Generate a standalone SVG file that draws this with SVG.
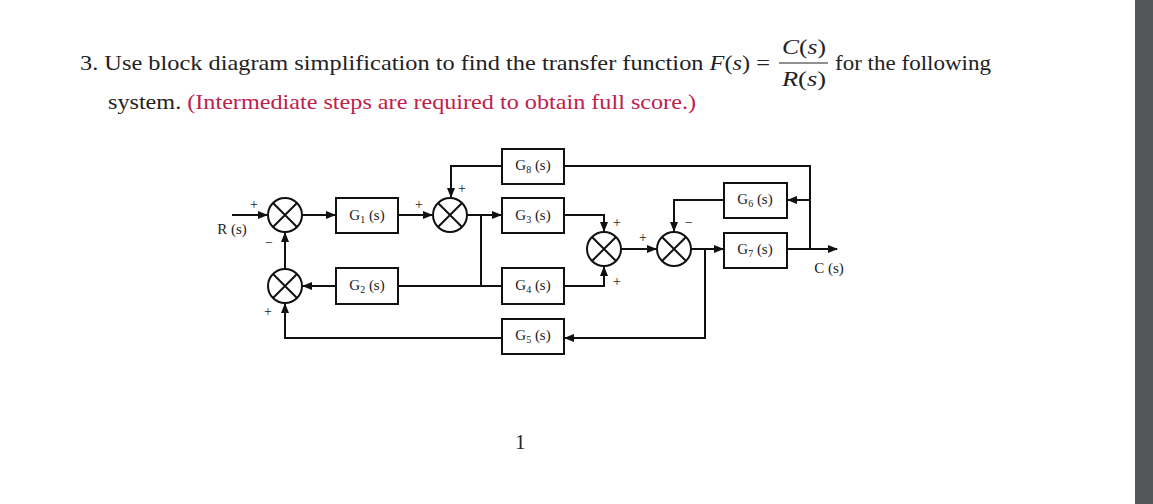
<svg xmlns="http://www.w3.org/2000/svg" width="1153" height="504" viewBox="0 0 1153 504">
<style>
.t{font-family:"Liberation Serif",serif;font-size:21px;fill:#222}
.r{fill:#c0204a}
.b{fill:#fff;stroke:#111;stroke-width:2}
.bl{font-family:"Liberation Serif",serif;font-size:15px;fill:#222;text-anchor:middle}
.sub{font-size:10px}
.s{font-family:"Liberation Serif",serif;font-size:14px;fill:#222}
.w{fill:none;stroke:#111;stroke-width:2}
.x{fill:#fff;stroke:#111;stroke-width:2}
</style>
<defs><marker id="a" markerWidth="10" markerHeight="8" refX="9" refY="4" orient="auto" markerUnits="userSpaceOnUse"><path d="M0,0L10,4L0,8z" fill="#111"/></marker></defs>
<rect width="1153" height="504" fill="#fff"/>
<rect x="1135" y="0" width="18" height="504" fill="#54575a"/>
<text class="t" x="80" y="70" textLength="690" lengthAdjust="spacingAndGlyphs">3. Use block diagram simplification to find the transfer function <tspan font-style="italic">F</tspan>(<tspan font-style="italic">s</tspan>) =</text>
<text class="t" x="782" y="54" textLength="44" lengthAdjust="spacingAndGlyphs"><tspan font-style="italic">C</tspan>(<tspan font-style="italic">s</tspan>)</text>
<line x1="779" y1="63" x2="828" y2="63" stroke="#222" stroke-width="1"/>
<text class="t" x="782" y="86" textLength="44" lengthAdjust="spacingAndGlyphs"><tspan font-style="italic">R</tspan>(<tspan font-style="italic">s</tspan>)</text>
<text class="t" x="835" y="70" textLength="156" lengthAdjust="spacingAndGlyphs">for the following</text>
<text class="t" x="108" y="109" textLength="588" lengthAdjust="spacingAndGlyphs">system. <tspan class="r">(Intermediate steps are required to obtain full score.)</tspan></text>
<text class="t" x="515" y="449">1</text>
<g id="connectors">
<path class="w" d="M232,215H267" marker-end="url(#a)"/>
<path class="w" d="M302,215H335" marker-end="url(#a)"/>
<path class="w" d="M398,215H432" marker-end="url(#a)"/>
<path class="w" d="M467,215H501" marker-end="url(#a)"/>
<path class="w" d="M481,215V286H398"/>
<path class="w" d="M481,286H502"/>
<path class="w" d="M336,286H303" marker-end="url(#a)"/>
<path class="w" d="M285,269V233" marker-end="url(#a)"/>
<path class="w" d="M502,166H451V197" marker-end="url(#a)"/>
<path class="w" d="M502,338H285V304" marker-end="url(#a)"/>
<path class="w" d="M564,215H604V231" marker-end="url(#a)"/>
<path class="w" d="M564,286H604V267" marker-end="url(#a)"/>
<path class="w" d="M621,249H656" marker-end="url(#a)"/>
<path class="w" d="M691,249H723" marker-end="url(#a)"/>
<path class="w" d="M724,200H674V231" marker-end="url(#a)"/>
<path class="w" d="M564,166H810V249"/>
<path class="w" d="M810,200H788" marker-end="url(#a)"/>
<path class="w" d="M787,249H837" marker-end="url(#a)"/>
<path class="w" d="M705,249V338H565" marker-end="url(#a)"/>
</g>
<g id="S1"><circle class="x" cx="285" cy="215" r="17"/><path class="w" d="M273,203L297,227M297,203L273,227"/></g>
<g id="S2"><circle class="x" cx="285" cy="286" r="17"/><path class="w" d="M273,274L297,298M297,274L273,298"/></g>
<g id="S3"><circle class="x" cx="450" cy="215" r="17"/><path class="w" d="M438,203L462,227M462,203L438,227"/></g>
<g id="S4"><circle class="x" cx="604" cy="249" r="17"/><path class="w" d="M592,237L616,261M616,237L592,261"/></g>
<g id="S5"><circle class="x" cx="674" cy="249" r="17"/><path class="w" d="M662,237L686,261M686,237L662,261"/></g>
<g id="G1"><rect class="b" x="336" y="198" width="62" height="35"/><text class="bl" x="367" y="220">G<tspan class="sub" dy="3">1</tspan><tspan dy="-3"> (s)</tspan></text></g>
<g id="G2"><rect class="b" x="336" y="268" width="62" height="36"/><text class="bl" x="367" y="290">G<tspan class="sub" dy="3">2</tspan><tspan dy="-3"> (s)</tspan></text></g>
<g id="G8"><rect class="b" x="502" y="149" width="62" height="35"/><text class="bl" x="533" y="170">G<tspan class="sub" dy="3">8</tspan><tspan dy="-3"> (s)</tspan></text></g>
<g id="G3"><rect class="b" x="502" y="198" width="62" height="35"/><text class="bl" x="533" y="220">G<tspan class="sub" dy="3">3</tspan><tspan dy="-3"> (s)</tspan></text></g>
<g id="G4"><rect class="b" x="502" y="268" width="62" height="36"/><text class="bl" x="533" y="290">G<tspan class="sub" dy="3">4</tspan><tspan dy="-3"> (s)</tspan></text></g>
<g id="G5"><rect class="b" x="502" y="319" width="62" height="35"/><text class="bl" x="533" y="340">G<tspan class="sub" dy="3">5</tspan><tspan dy="-3"> (s)</tspan></text></g>
<g id="G6"><rect class="b" x="724" y="183" width="63" height="35"/><text class="bl" x="755" y="204">G<tspan class="sub" dy="3">6</tspan><tspan dy="-3"> (s)</tspan></text></g>
<g id="G7"><rect class="b" x="724" y="233" width="63" height="35"/><text class="bl" x="755" y="254">G<tspan class="sub" dy="3">7</tspan><tspan dy="-3"> (s)</tspan></text></g>
<g id="labels">
<text class="bl" x="232" y="234">R (s)</text>
<text class="bl" x="829" y="273">C (s)</text>
<text class="s" x="250" y="209">+</text>
<text class="s" x="265" y="247">−</text>
<text class="s" x="264" y="316">+</text>
<text class="s" x="415" y="209">+</text>
<text class="s" x="458" y="193">+</text>
<text class="s" x="613" y="227">+</text>
<text class="s" x="613" y="286">+</text>
<text class="s" x="639" y="242">+</text>
<text class="s" x="685" y="227">−</text>
</g>
</svg>
